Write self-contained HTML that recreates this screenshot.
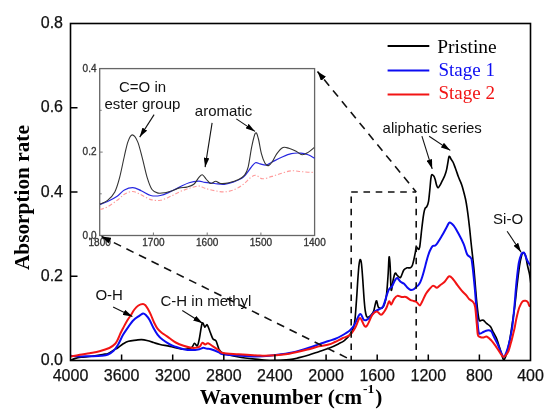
<!DOCTYPE html>
<html><head><meta charset="utf-8"><style>html,body{margin:0;padding:0;background:#fff;}svg{display:block;}</style></head>
<body><svg width="550" height="417" viewBox="0 0 550 417">
<rect x="0" y="0" width="550" height="417" fill="#fff"/>
<defs><clipPath id="cp"><rect x="70.5" y="23.5" width="460.0" height="337.0"/></clipPath>
<marker id="ah" viewBox="0 0 10 10" refX="10" refY="5" preserveAspectRatio="none" markerWidth="9.5" markerHeight="5.6" markerUnits="userSpaceOnUse" orient="auto"><path d="M0,0 L10,5 L0,10 z" fill="#000"/></marker>
<marker id="ah2" viewBox="0 0 10 10" refX="10" refY="5" preserveAspectRatio="none" markerWidth="9.5" markerHeight="6.5" markerUnits="userSpaceOnUse" orient="auto"><path d="M0,0 L10,5 L0,10 z" fill="#000"/></marker>
</defs>
<g clip-path="url(#cp)" fill="none" stroke-linejoin="round" stroke-linecap="round">
<path d="M70.5,360.5 C71.3,360.1 73.8,358.9 75.5,358.4 C77.2,357.9 78.2,357.7 80.9,357.3 C83.6,356.9 88.2,356.7 91.8,356.2 C95.4,355.7 100.0,355.0 102.7,354.5 C105.4,354.0 106.4,354.1 108.2,353.4 C110.0,352.7 112.0,351.1 113.6,350.2 C115.2,349.2 116.3,348.8 117.9,347.7 C119.5,346.6 121.4,344.9 123.2,343.8 C125.0,342.7 126.3,341.8 128.5,341.2 C130.7,340.6 134.2,340.4 136.4,340.1 C138.6,339.8 139.8,339.5 141.6,339.6 C143.3,339.7 144.9,340.0 146.9,340.5 C148.9,341.0 151.3,341.8 153.5,342.5 C155.7,343.2 157.3,343.9 160.1,344.5 C162.8,345.1 166.1,345.6 170.0,346.4 C173.9,347.2 180.0,349.0 183.6,349.2 C187.2,349.4 189.6,348.8 191.4,347.8 C193.2,346.8 193.4,343.6 194.4,343.3 C195.4,343.0 196.5,346.5 197.3,345.8 C198.1,345.1 198.5,342.8 199.3,339.0 C200.1,335.2 201.3,325.2 202.2,323.2 C203.1,321.2 204.0,326.9 204.8,327.2 C205.6,327.5 206.3,324.0 207.2,324.8 C208.1,325.6 209.1,329.6 210.1,332.0 C211.1,334.4 212.0,337.5 213.0,339.0 C214.0,340.5 215.0,339.3 216.0,340.9 C217.0,342.5 217.8,346.8 218.9,348.8 C220.1,350.8 219.6,351.7 222.9,353.1 C226.2,354.5 232.4,355.9 238.6,357.0 C244.8,358.1 254.8,359.0 260.0,359.6 C265.2,360.2 264.7,360.5 269.6,360.5 C274.5,360.5 284.4,360.1 289.3,359.6 C294.2,359.1 295.8,358.4 299.1,357.6 C302.4,356.8 305.6,356.0 308.9,355.0 C312.2,354.0 315.5,352.8 318.8,351.7 C322.1,350.6 325.5,349.6 328.8,348.3 C332.1,347.0 335.8,345.2 338.4,343.9 C341.0,342.6 342.4,342.1 344.3,340.6 C346.2,339.1 348.3,337.0 349.8,334.8 C351.3,332.6 352.6,330.1 353.5,327.5 C354.4,324.9 354.5,323.9 355.0,319.3 C355.5,314.7 356.0,306.6 356.5,300.0 C357.0,293.4 357.4,285.8 357.8,280.0 C358.2,274.2 358.6,268.4 359.0,265.0 C359.4,261.6 359.8,259.7 360.2,259.5 C360.6,259.3 361.1,260.6 361.5,264.0 C361.9,267.4 362.4,274.3 362.8,280.0 C363.2,285.7 363.6,292.8 364.0,298.0 C364.4,303.2 364.8,307.8 365.3,311.0 C365.8,314.2 366.2,316.2 367.0,317.0 C367.8,317.8 369.1,316.8 370.2,315.9 C371.3,315.0 372.5,314.1 373.5,311.6 C374.5,309.1 375.5,301.5 376.3,300.8 C377.1,300.1 377.4,306.0 378.4,307.2 C379.4,308.4 381.1,308.3 382.1,307.9 C383.1,307.4 383.6,306.7 384.3,304.5 C385.0,302.3 385.9,300.0 386.5,294.8 C387.1,289.6 387.8,279.5 388.2,273.2 C388.6,266.9 388.8,258.1 389.1,257.0 C389.4,255.9 389.9,261.2 390.2,266.7 C390.5,272.2 390.7,287.6 391.2,290.0 C391.7,292.4 392.4,283.6 393.0,280.8 C393.6,278.0 394.4,274.1 395.1,273.2 C395.8,272.3 396.4,274.7 397.3,275.4 C398.2,276.1 399.4,278.4 400.5,277.5 C401.6,276.6 402.7,271.6 403.8,270.0 C404.9,268.4 405.9,268.2 407.0,267.8 C408.1,267.4 409.3,268.3 410.2,267.8 C411.1,267.3 411.7,267.2 412.5,264.9 C413.3,262.5 414.5,256.7 415.1,253.7 C415.8,250.7 415.8,247.7 416.4,247.0 C416.9,246.3 417.8,249.5 418.4,249.5 C418.9,249.5 419.3,249.1 419.7,247.0 C420.1,244.9 420.5,240.0 420.9,236.9 C421.2,233.8 421.5,231.0 421.8,228.5 C422.1,226.0 422.3,224.3 422.6,221.8 C422.9,219.3 423.4,215.6 423.8,213.4 C424.2,211.2 424.6,209.5 425.1,208.4 C425.6,207.3 426.2,207.8 426.8,206.7 C427.4,205.6 428.0,204.5 428.5,201.7 C429.0,198.9 429.4,193.8 429.8,190.0 C430.2,186.2 430.5,181.7 430.8,179.2 C431.1,176.7 431.2,175.5 431.7,174.9 C432.2,174.3 433.0,175.1 433.6,175.8 C434.2,176.5 434.6,177.7 435.1,179.2 C435.6,180.7 436.0,183.5 436.5,184.9 C437.0,186.3 437.3,187.7 437.9,187.8 C438.5,187.9 439.2,186.6 439.9,185.4 C440.6,184.2 441.5,182.2 442.3,180.6 C443.1,179.0 444.0,177.6 444.7,175.8 C445.4,174.0 446.1,171.9 446.6,169.6 C447.2,167.3 447.6,164.1 448.0,161.9 C448.4,159.7 448.6,156.7 449.2,156.3 C449.8,155.9 450.6,158.5 451.3,159.5 C452.0,160.5 452.5,161.0 453.2,162.5 C453.9,164.0 454.6,166.2 455.5,168.5 C456.4,170.8 457.5,174.3 458.3,176.5 C459.1,178.7 459.7,179.8 460.4,181.5 C461.1,183.2 461.5,184.1 462.4,187.0 C463.2,189.9 464.6,195.0 465.5,199.0 C466.4,203.0 466.8,206.4 467.5,211.1 C468.2,215.8 468.9,222.2 469.5,227.4 C470.1,232.6 470.3,235.3 471.0,242.0 C471.7,248.7 472.8,257.6 473.8,267.7 C474.8,277.8 475.9,293.9 476.8,302.5 C477.7,311.1 478.3,316.5 479.0,319.5 C479.7,322.5 480.5,320.2 481.2,320.3 C481.9,320.4 482.5,319.8 483.4,320.3 C484.3,320.8 485.3,322.4 486.5,323.4 C487.7,324.4 489.2,324.9 490.4,326.5 C491.6,328.1 492.4,330.6 493.5,332.7 C494.6,334.8 495.7,336.4 496.7,338.8 C497.7,341.2 498.6,344.5 499.5,347.2 C500.4,349.9 501.1,352.9 501.8,355.0 C502.5,357.1 503.1,360.1 503.9,359.8 C504.7,359.5 505.8,356.5 506.8,353.0 C507.8,349.5 509.0,343.9 509.9,339.0 C510.8,334.1 511.5,328.6 512.3,323.4 C513.1,318.2 513.8,314.0 514.6,307.8 C515.4,301.6 516.2,293.0 517.0,286.0 C517.8,279.0 518.8,271.0 519.5,266.0 C520.2,261.0 520.9,258.2 521.5,256.0 C522.1,253.8 522.4,253.0 523.0,252.8 C523.6,252.6 524.6,252.9 525.4,255.0 C526.1,257.1 526.8,262.2 527.5,265.5 C528.2,268.8 529.0,271.2 529.6,274.5 C530.2,277.8 530.8,283.2 531.0,285.0" stroke="#000" stroke-width="1.65"/>
<path d="M70.5,355.8 C72.0,355.9 76.6,356.4 79.8,356.5 C83.0,356.6 86.0,356.3 89.6,356.2 C93.2,356.1 98.3,356.1 101.4,355.8 C104.5,355.5 106.0,355.4 108.0,354.5 C110.0,353.6 111.9,352.3 113.6,350.7 C115.2,349.1 116.3,347.7 117.9,345.0 C119.5,342.3 121.4,337.7 123.2,334.6 C125.0,331.5 126.8,329.0 128.5,326.6 C130.2,324.2 131.9,321.8 133.7,320.0 C135.4,318.2 137.4,317.2 139.0,316.1 C140.6,315.0 141.9,313.7 143.0,313.5 C144.1,313.3 144.5,313.7 145.6,314.8 C146.7,315.9 148.3,317.8 149.6,320.0 C150.9,322.2 152.2,325.6 153.5,328.0 C154.8,330.4 156.0,332.6 157.5,334.6 C159.0,336.6 160.6,338.2 162.7,339.8 C164.8,341.4 167.8,343.3 170.0,344.5 C172.2,345.7 173.4,346.0 175.7,346.8 C178.0,347.6 181.0,348.6 183.6,349.2 C186.2,349.8 188.8,350.1 191.4,350.1 C194.0,350.1 197.3,349.6 199.3,349.2 C201.3,348.8 201.9,347.9 203.2,347.8 C204.5,347.7 205.9,348.6 207.2,348.8 C208.5,349.0 209.1,348.6 211.0,349.2 C212.9,349.8 216.9,351.4 218.9,352.3 C220.9,353.2 219.6,353.8 222.9,354.3 C226.2,354.9 233.2,355.2 238.6,355.6 C243.9,356.0 249.8,356.5 255.0,356.5 C260.2,356.5 263.9,356.4 269.6,355.8 C275.3,355.2 282.8,354.4 289.3,353.1 C295.9,351.8 304.0,349.2 308.9,347.8 C313.8,346.4 315.5,345.5 318.8,344.4 C322.1,343.3 325.9,341.9 328.6,341.0 C331.3,340.1 332.7,339.9 334.9,339.0 C337.1,338.1 339.5,336.9 342.0,335.5 C344.5,334.1 347.8,332.2 349.8,330.5 C351.8,328.8 352.5,328.0 354.2,325.3 C355.9,322.6 358.3,315.1 359.9,314.1 C361.4,313.1 362.5,318.5 363.5,319.5 C364.5,320.5 364.8,320.6 365.9,320.2 C367.0,319.8 368.8,318.4 370.2,317.0 C371.6,315.6 373.2,312.9 374.6,311.6 C376.1,310.3 377.5,310.3 378.9,309.4 C380.3,308.5 381.8,309.0 383.2,306.2 C384.6,303.4 386.5,295.6 387.6,292.6 C388.7,289.6 389.0,289.3 389.7,288.3 C390.4,287.3 391.0,288.0 391.9,286.6 C392.8,285.2 394.2,281.5 395.1,280.1 C396.0,278.7 396.4,277.7 397.3,278.0 C398.2,278.3 399.4,280.9 400.5,281.8 C401.6,282.7 402.7,282.7 403.8,283.6 C404.9,284.5 405.9,286.2 407.0,287.2 C408.1,288.2 409.1,289.4 410.2,289.8 C411.3,290.2 412.4,289.9 413.5,289.4 C414.6,288.8 415.9,287.2 416.7,286.5 C417.5,285.8 417.9,285.8 418.5,285.0 C419.1,284.2 419.8,283.1 420.4,281.8 C421.0,280.5 421.5,279.2 422.2,277.0 C422.9,274.8 423.9,271.1 424.6,268.6 C425.3,266.1 425.7,264.1 426.3,262.0 C426.9,259.9 427.4,257.9 428.0,256.0 C428.6,254.1 429.3,252.0 430.1,250.3 C430.9,248.7 431.7,247.0 432.7,246.1 C433.7,245.2 434.5,246.6 436.0,244.9 C437.5,243.2 440.1,238.8 441.9,235.8 C443.7,232.8 445.6,228.9 446.9,226.7 C448.2,224.5 448.5,222.6 449.6,222.4 C450.7,222.2 452.2,223.8 453.7,225.7 C455.2,227.6 457.0,231.0 458.7,234.1 C460.4,237.2 462.3,240.8 463.7,244.2 C465.1,247.6 466.0,252.1 467.1,254.3 C468.2,256.5 469.7,256.3 470.5,257.6 C471.3,258.9 471.3,257.0 472.0,262.0 C472.7,267.0 473.9,278.8 474.7,287.4 C475.5,295.9 476.2,305.9 476.8,313.3 C477.4,320.7 477.9,328.1 478.5,331.5 C479.1,334.9 479.5,333.4 480.3,333.5 C481.1,333.6 482.2,332.5 483.4,332.0 C484.6,331.5 486.0,330.5 487.3,330.4 C488.6,330.3 490.2,330.3 491.2,331.2 C492.2,332.1 492.5,333.8 493.5,335.9 C494.5,338.0 496.1,340.8 497.4,343.7 C498.7,346.6 500.2,350.8 501.3,353.0 C502.4,355.2 502.8,357.2 503.7,356.9 C504.6,356.6 505.9,353.4 506.8,351.0 C507.7,348.6 508.6,345.4 509.3,342.6 C510.0,339.8 510.5,336.8 511.0,334.2 C511.5,331.6 511.9,330.2 512.3,327.0 C512.7,323.8 513.2,319.2 513.6,315.0 C514.0,310.8 514.3,307.5 514.8,302.0 C515.3,296.5 515.8,288.5 516.5,282.0 C517.2,275.5 518.0,267.7 518.8,263.0 C519.6,258.3 520.8,255.7 521.5,254.0 C522.2,252.3 522.5,252.9 523.0,252.8 C523.5,252.7 523.8,252.1 524.5,253.5 C525.2,254.9 526.5,259.0 527.5,261.0 C528.5,263.0 530.0,264.8 530.5,265.5" stroke="#0c0cf2" stroke-width="2"/>
<path d="M70.5,356.5 C72.0,356.2 76.6,355.4 79.8,354.8 C83.0,354.2 86.3,353.8 89.6,353.2 C92.9,352.6 96.2,352.2 99.5,351.3 C102.8,350.4 106.7,349.2 109.3,348.0 C111.9,346.8 113.8,345.3 115.2,343.8 C116.6,342.3 117.0,341.0 117.9,339.2 C118.8,337.4 119.6,335.1 120.5,333.2 C121.4,331.3 122.1,330.1 123.2,328.0 C124.3,325.9 125.8,322.9 127.1,320.7 C128.4,318.5 129.9,316.7 131.1,314.8 C132.3,312.9 133.2,311.1 134.4,309.5 C135.6,307.9 137.0,306.4 138.4,305.5 C139.8,304.6 141.8,304.0 143.0,304.0 C144.2,304.0 144.7,304.6 145.6,305.5 C146.5,306.4 147.3,307.9 148.2,309.5 C149.1,311.1 149.9,312.6 150.9,314.8 C151.9,317.0 153.1,320.4 154.2,322.7 C155.3,325.0 156.3,327.0 157.5,328.6 C158.7,330.2 160.1,331.5 161.4,332.6 C162.7,333.7 164.0,334.2 165.4,335.2 C166.8,336.2 168.3,337.3 170.0,338.5 C171.7,339.7 173.4,341.3 175.7,342.5 C178.0,343.7 181.0,344.9 183.6,345.8 C186.2,346.7 188.8,347.6 191.4,347.8 C194.0,348.0 197.5,347.6 199.3,346.8 C201.1,346.0 201.2,343.3 202.2,342.9 C203.2,342.5 204.2,344.3 205.2,344.4 C206.2,344.5 206.8,343.0 208.1,343.3 C209.4,343.6 211.2,345.2 213.0,346.4 C214.8,347.6 217.2,349.2 218.9,350.3 C220.6,351.4 219.6,352.4 222.9,353.1 C226.2,353.8 232.4,353.9 238.6,354.3 C244.8,354.7 254.8,355.4 260.0,355.6 C265.2,355.8 264.7,355.9 269.6,355.6 C274.5,355.3 282.8,354.8 289.3,353.7 C295.9,352.6 304.0,350.4 308.9,349.2 C313.8,348.0 315.5,347.2 318.8,346.4 C322.1,345.6 325.9,345.2 328.6,344.5 C331.3,343.8 332.7,343.0 334.9,342.0 C337.1,341.0 339.5,339.7 342.0,338.5 C344.5,337.3 347.5,336.9 349.8,335.0 C352.1,333.1 354.0,329.7 355.7,326.8 C357.4,323.9 358.5,318.1 359.9,317.9 C361.3,317.7 363.0,324.2 364.2,325.5 C365.4,326.8 365.6,327.4 367.0,325.6 C368.4,323.8 370.8,317.1 372.4,314.8 C374.0,312.5 375.3,311.6 376.7,311.6 C378.1,311.6 379.8,314.7 381.0,314.8 C382.2,314.9 383.1,313.2 384.0,312.0 C384.9,310.8 385.6,309.6 386.5,307.8 C387.4,306.0 388.3,301.9 389.1,301.3 C389.9,300.8 390.4,304.9 391.2,304.5 C392.0,304.1 393.0,300.5 394.0,299.1 C395.0,297.7 396.0,296.2 397.3,295.9 C398.6,295.5 400.2,296.8 401.6,297.0 C403.0,297.2 404.5,296.5 405.9,297.0 C407.3,297.5 408.9,299.1 410.2,299.8 C411.5,300.5 412.7,300.6 413.8,301.0 C414.9,301.4 415.8,301.4 416.8,302.2 C417.8,302.9 418.9,305.6 419.8,305.5 C420.7,305.4 421.2,303.4 422.2,301.5 C423.2,299.6 424.6,296.1 425.8,294.0 C427.0,291.9 428.3,290.5 429.4,289.2 C430.5,287.9 431.5,286.5 432.4,286.0 C433.3,285.5 433.9,286.0 434.7,286.3 C435.4,286.6 436.0,288.0 436.9,287.8 C437.8,287.6 438.9,286.2 440.1,285.2 C441.4,284.2 442.9,283.5 444.4,282.0 C445.9,280.5 447.8,276.7 449.2,276.2 C450.6,275.7 451.7,277.7 453.1,279.2 C454.5,280.7 456.0,283.3 457.4,285.2 C458.8,287.1 460.3,289.0 461.7,290.6 C463.1,292.2 464.7,293.6 466.0,295.0 C467.3,296.4 468.2,298.2 469.3,299.3 C470.4,300.4 471.5,300.1 472.5,301.4 C473.5,302.6 474.4,303.0 475.1,306.8 C475.8,310.6 476.3,319.4 476.8,324.1 C477.3,328.8 477.3,332.8 477.9,334.9 C478.4,337.0 479.2,336.6 480.1,337.0 C481.0,337.4 481.9,337.7 483.0,337.6 C484.1,337.6 485.6,336.2 487.0,336.7 C488.4,337.2 490.0,339.0 491.5,340.6 C493.0,342.2 494.5,344.5 496.0,346.6 C497.5,348.8 499.3,351.8 500.5,353.5 C501.7,355.2 502.6,356.6 503.4,356.9 C504.2,357.2 504.6,356.5 505.5,355.5 C506.4,354.5 507.6,353.1 508.5,351.0 C509.4,348.9 510.2,345.4 511.0,342.6 C511.8,339.8 512.5,336.6 513.1,334.2 C513.7,331.8 514.0,330.7 514.6,328.0 C515.2,325.3 515.7,321.4 516.5,318.0 C517.3,314.6 518.3,310.2 519.3,307.5 C520.3,304.8 521.4,302.7 522.4,301.6 C523.4,300.5 524.6,300.7 525.5,300.8 C526.4,300.9 527.2,301.4 527.9,302.3 C528.5,303.2 528.9,305.6 529.4,306.0 C529.9,306.4 530.7,305.2 531.0,305.0" stroke="#f21414" stroke-width="2"/>
</g>
<rect x="70.5" y="23.5" width="460.0" height="337.0" fill="none" stroke="#000" stroke-width="1.6"/>
<path d="M70.5,276.2h7 M70.5,192.0h7 M70.5,107.8h7 M121.6,360.5v-6 M172.7,360.5v-6 M223.8,360.5v-6 M274.9,360.5v-6 M326.1,360.5v-6 M377.2,360.5v-6 M428.3,360.5v-6 M479.4,360.5v-6" stroke="#000" stroke-width="1.5" fill="none"/>
<g font-family="Liberation Sans, Arial, sans-serif" font-size="16" fill="#111" stroke="#111" stroke-width="0.25">
<text x="63" y="365.0" text-anchor="end">0.0</text>
<text x="63" y="280.8" text-anchor="end">0.2</text>
<text x="63" y="196.5" text-anchor="end">0.4</text>
<text x="63" y="112.3" text-anchor="end">0.6</text>
<text x="63" y="28.0" text-anchor="end">0.8</text>
<text x="70.5" y="381" text-anchor="middle">4000</text>
<text x="121.6" y="381" text-anchor="middle">3600</text>
<text x="172.7" y="381" text-anchor="middle">3200</text>
<text x="223.8" y="381" text-anchor="middle">2800</text>
<text x="274.9" y="381" text-anchor="middle">2400</text>
<text x="326.1" y="381" text-anchor="middle">2000</text>
<text x="377.2" y="381" text-anchor="middle">1600</text>
<text x="428.3" y="381" text-anchor="middle">1200</text>
<text x="479.4" y="381" text-anchor="middle">800</text>
<text x="530.5" y="381" text-anchor="middle">400</text>
</g>
<text x="0" y="0" transform="translate(29.1,197.6) rotate(-90)" text-anchor="middle" font-family="Liberation Serif, Times New Roman, serif" font-weight="bold" font-size="21.3" fill="#000">Absorption rate</text>
<text x="291" y="403.5" text-anchor="middle" font-family="Liberation Serif, Times New Roman, serif" font-weight="bold" font-size="21.3" fill="#000">Wavenumber (cm<tspan font-size="13.5" dy="-11" dx="1">-1</tspan><tspan dy="11" dx="1">)</tspan></text>
<rect x="99.7" y="68.6" width="214.9" height="166.9" fill="#fff" stroke="#666" stroke-width="1.3"/>
<path d="M99.7,152.1h3 M99.7,193.8h2 M99.7,110.3h2 M153.4,235.5v-3 M207.2,235.5v-3 M260.9,235.5v-3" stroke="#777" stroke-width="1" fill="none"/>
<g font-family="Liberation Sans, Arial, sans-serif" font-size="10" fill="#333" stroke="#333" stroke-width="0.3">
<text x="96.5" y="238.5" text-anchor="end">0.0</text>
<text x="96.5" y="155.1" text-anchor="end">0.2</text>
<text x="96.5" y="71.6" text-anchor="end">0.4</text>
<text x="99.7" y="246.1" text-anchor="middle">1800</text>
<text x="153.4" y="246.1" text-anchor="middle">1700</text>
<text x="207.2" y="246.1" text-anchor="middle">1600</text>
<text x="260.9" y="246.1" text-anchor="middle">1500</text>
<text x="314.6" y="246.1" text-anchor="middle">1400</text>
</g>
<g fill="none" stroke-linejoin="round">
<path d="M100.0,209.5 C101.3,209.1 104.7,208.3 107.6,206.8 C110.5,205.3 114.4,202.4 117.2,200.3 C120.0,198.2 121.8,195.8 124.4,194.3 C127.0,192.8 130.0,191.4 132.8,191.5 C135.6,191.6 138.2,193.5 141.2,194.8 C144.2,196.2 147.6,198.7 150.8,199.6 C154.0,200.5 157.2,200.8 160.4,200.3 C163.6,199.8 166.8,198.0 170.0,196.6 C173.2,195.2 176.3,193.3 179.5,191.9 C182.7,190.5 185.9,189.3 189.1,188.3 C192.3,187.3 196.0,186.0 198.7,186.0 C201.3,186.0 202.3,187.5 205.0,188.3 C207.7,189.1 211.4,190.1 214.6,190.7 C217.8,191.3 221.0,192.0 224.2,191.9 C227.4,191.8 230.6,191.2 233.8,189.9 C237.0,188.6 240.6,186.4 243.4,184.3 C246.2,182.2 248.5,179.1 250.6,177.6 C252.7,176.1 253.8,175.0 255.8,175.2 C257.8,175.4 259.9,178.6 262.6,178.8 C265.3,179.0 268.9,177.3 272.1,176.4 C275.3,175.5 278.5,174.1 281.7,173.2 C284.9,172.3 288.1,171.1 291.3,170.8 C294.5,170.5 297.7,171.3 300.9,171.6 C304.1,171.8 308.2,172.2 310.5,172.3 C312.8,172.4 313.9,172.3 314.6,172.3" stroke="#ff9a9a" stroke-width="1.1" stroke-dasharray="4 2 1.3 2"/>
<path d="M100.0,204.4 C101.3,203.9 104.7,202.8 107.6,201.5 C110.5,200.2 114.4,198.2 117.2,196.3 C120.0,194.4 121.8,191.4 124.4,190.0 C127.0,188.6 130.0,187.5 132.8,187.6 C135.6,187.7 138.2,189.4 141.2,190.7 C144.2,192.0 147.6,194.7 150.8,195.5 C154.0,196.3 157.2,196.1 160.4,195.5 C163.6,194.9 166.8,193.3 170.0,191.9 C173.2,190.5 176.3,188.6 179.5,187.1 C182.7,185.6 185.9,183.8 189.1,182.8 C192.3,181.8 196.0,181.3 198.7,181.2 C201.3,181.1 202.3,182.0 205.0,182.4 C207.7,182.8 211.4,183.2 214.6,183.5 C217.8,183.8 221.0,184.6 224.2,184.3 C227.4,184.0 230.6,183.1 233.8,181.9 C237.0,180.7 240.6,179.4 243.4,177.1 C246.2,174.8 248.6,170.4 250.6,168.0 C252.6,165.6 253.8,163.4 255.4,162.7 C257.0,162.0 258.4,163.5 260.2,163.9 C262.0,164.3 264.2,165.4 266.2,165.1 C268.2,164.8 269.5,163.3 272.1,162.0 C274.7,160.7 278.5,158.6 281.7,157.2 C284.9,155.8 288.1,154.3 291.3,153.6 C294.5,152.9 298.1,152.9 300.9,153.1 C303.7,153.3 305.8,154.0 308.1,154.8 C310.4,155.7 313.5,157.6 314.6,158.2" stroke="#2828e0" stroke-width="1.2"/>
<path d="M100.0,204.2 C101.3,203.5 105.1,202.4 107.6,200.3 C110.1,198.2 112.8,195.7 114.8,191.9 C116.8,188.1 118.0,183.6 119.6,177.6 C121.2,171.6 123.0,162.0 124.4,156.0 C125.8,150.0 126.7,145.1 128.0,141.6 C129.3,138.1 130.6,134.9 132.2,134.9 C133.8,134.9 135.9,137.7 137.6,141.6 C139.3,145.5 140.8,152.4 142.4,158.4 C144.0,164.4 145.6,172.4 147.2,177.6 C148.8,182.8 150.2,186.9 152.0,189.5 C153.8,192.1 155.8,192.6 158.0,193.1 C160.2,193.6 162.7,193.1 165.1,192.7 C167.5,192.3 169.9,191.5 172.3,190.7 C174.7,189.9 177.1,188.5 179.5,187.9 C181.9,187.3 184.3,187.7 186.7,187.1 C189.1,186.5 191.9,185.9 193.9,184.3 C195.9,182.7 197.3,179.2 198.7,177.6 C200.1,176.0 201.1,174.5 202.3,174.7 C203.5,174.9 205.0,177.7 205.9,178.8 C206.8,179.9 207.2,180.4 208.0,181.2 C208.8,182.0 209.7,183.5 211.0,183.5 C212.3,183.5 214.2,181.2 215.8,181.2 C217.4,181.2 218.4,183.2 220.6,183.5 C222.8,183.8 226.0,183.5 229.0,182.8 C232.0,182.1 236.0,180.8 238.6,179.5 C241.2,178.2 243.0,177.3 244.6,175.2 C246.2,173.1 247.0,171.6 248.2,166.8 C249.4,162.0 250.6,152.0 251.8,146.4 C253.0,140.8 254.3,134.6 255.4,133.2 C256.5,131.8 257.2,134.6 258.2,138.0 C259.2,141.4 260.3,149.4 261.4,153.6 C262.5,157.8 263.8,161.2 265.0,163.2 C266.2,165.2 267.3,165.8 268.5,165.6 C269.7,165.4 270.7,164.0 272.1,162.0 C273.5,160.0 275.1,156.0 276.9,153.6 C278.7,151.2 281.0,148.5 283.0,147.6 C285.0,146.7 286.7,147.7 288.9,148.3 C291.1,148.9 293.9,150.1 296.1,151.2 C298.3,152.3 300.1,154.6 302.1,154.8 C304.1,155.0 306.1,153.6 308.1,152.4 C310.1,151.2 313.1,148.4 314.1,147.6" stroke="#333" stroke-width="1.1"/>
</g>
<g fill="none" stroke="#111" stroke-width="1.6" stroke-dasharray="6.6 5.65">
<path d="M351.2,192 H416.2 M351.2,196.5 V360 M416.2,196.5 V360"/>
<path d="M351.2,360 L101.5,236.5" marker-end="url(#ah2)" stroke-dasharray="8 6" stroke-dashoffset="-4.8"/>
<path d="M416.2,192 L317.5,71.5" marker-end="url(#ah2)" stroke-dasharray="8 6" stroke-dashoffset="2.7"/>
</g>
<g stroke-width="2">
<path d="M387.6,46H429.3" stroke="#000"/>
<path d="M387.6,70.6H429.3" stroke="#0c0cf2"/>
<path d="M387.6,94.6H429.3" stroke="#f21414"/>
</g>
<g font-family="Liberation Serif, Times New Roman, serif" font-size="18" lengthAdjust="spacingAndGlyphs">
<text x="437.2" y="52.8" fill="#000" textLength="59.5" lengthAdjust="spacingAndGlyphs">Pristine</text>
<text x="438.4" y="76.1" fill="#0c0cf2" textLength="56.5" lengthAdjust="spacingAndGlyphs">Stage 1</text>
<text x="438.4" y="99.4" fill="#f21414" textLength="56.5" lengthAdjust="spacingAndGlyphs">Stage 2</text>
</g>
<g font-family="Liberation Sans, Arial, sans-serif" font-size="15" fill="#111">
<text x="119" y="91.7">C=O in</text>
<text x="104.5" y="109">ester group</text>
<text x="194.8" y="115.5">aromatic</text>
<text x="95.4" y="299.8">O-H</text>
<text x="160.5" y="306">C-H in methyl</text>
<text x="382.6" y="132.8">aliphatic series</text>
<text x="493.1" y="223.7">Si-O</text>
</g>
<g stroke="#111" stroke-width="1.1" fill="none">
<path d="M154.1,114.6 L139.7,137.1" marker-end="url(#ah)"/>
<path d="M212.1,122.8 L205.1,167.2" marker-end="url(#ah)"/>
<path d="M236.3,118.9 L255.0,131.4" marker-end="url(#ah)"/>
<path d="M113.1,307.0 L132.4,316.5" marker-end="url(#ah)"/>
<path d="M182.3,310.5 L202.6,323.2" marker-end="url(#ah)"/>
<path d="M421.9,136.2 L432.2,168.9" marker-end="url(#ah)"/>
<path d="M429.1,136.2 L450.3,150.4" marker-end="url(#ah)"/>
<path d="M507.1,231.2 L521.1,252.2" marker-end="url(#ah)"/>
</g>
</svg></body></html>
